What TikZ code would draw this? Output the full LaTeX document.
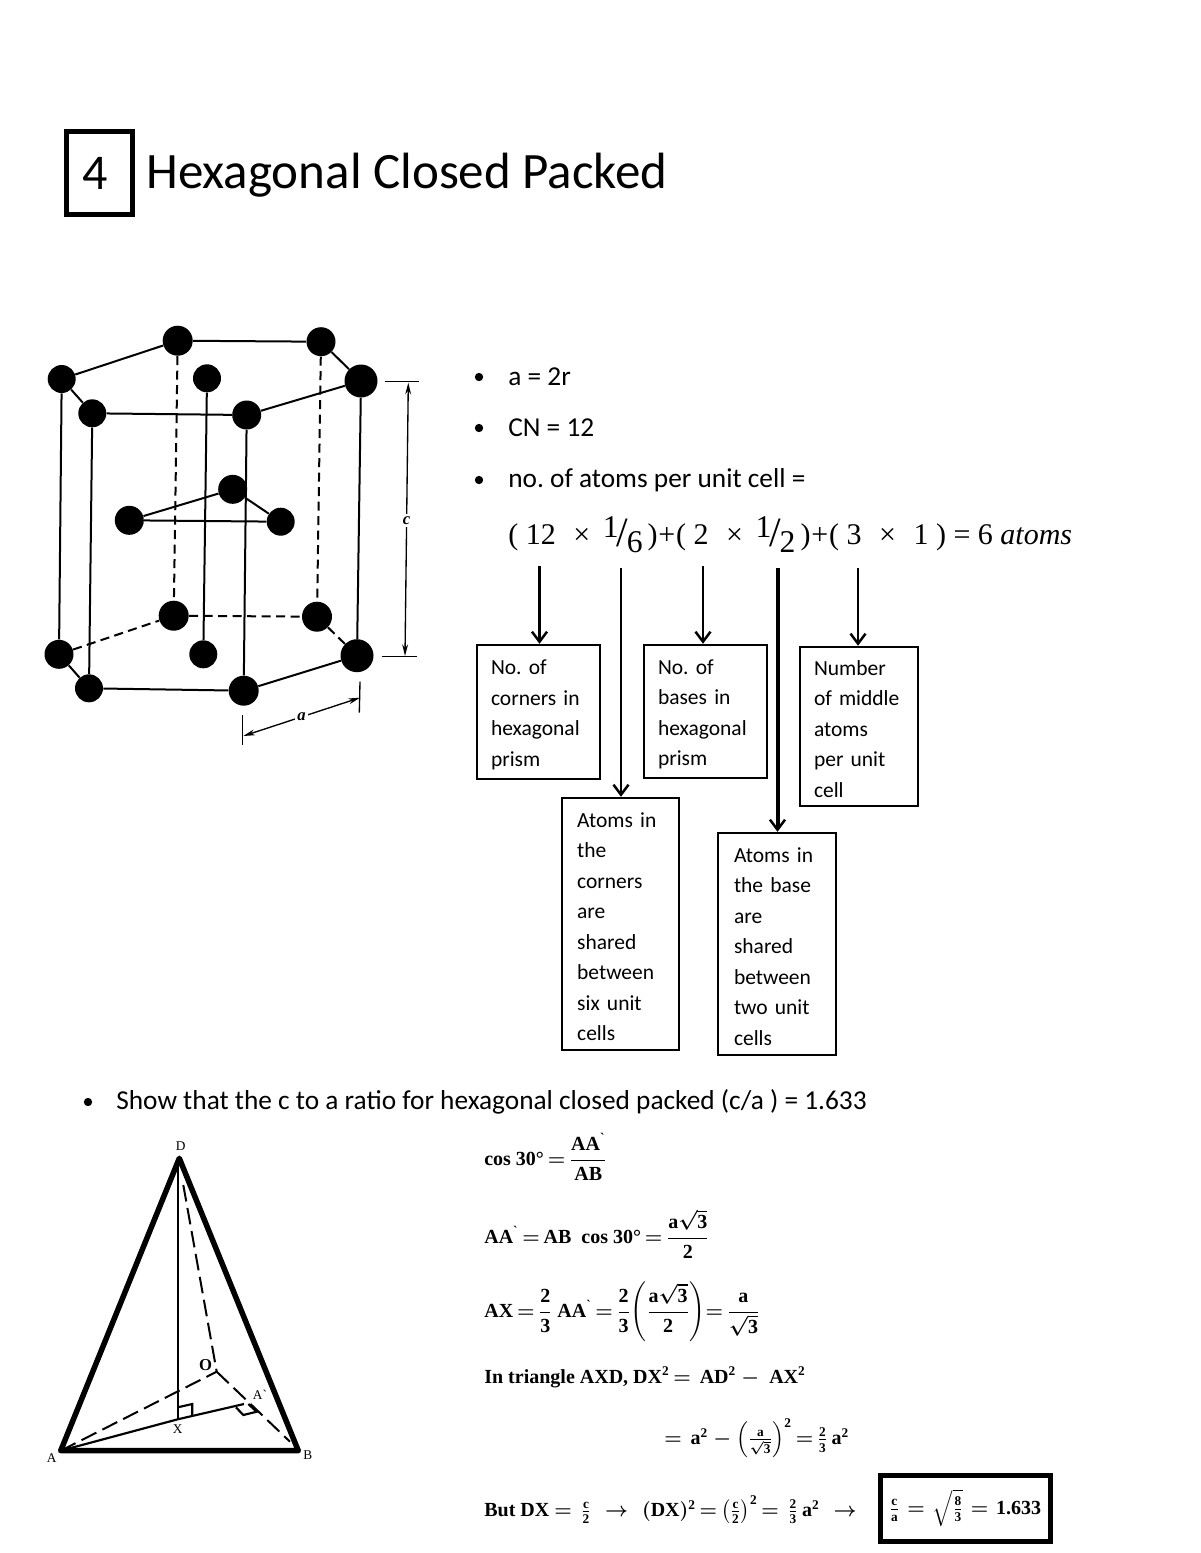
\documentclass[tikz,border=0pt]{standalone}
\usepackage{amsmath}
\usepackage{fontspec}
\setmainfont{Liberation Serif}
\newfontfamily\calfont{Carlito}
\usetikzlibrary{arrows.meta,calc}
\newcommand{\Mb}[1]{\text{\bfseries #1}}
\newcommand{\Gr}{^{\text{\bfseries\textasciigrave}}}
\thickmuskip=3mu
\tikzset{
  x=0.6pt,y=-0.6pt,
  atom/.style={circle,fill=black,inner sep=0pt,minimum size=#1*0.6pt},
  edge/.style={line width=1.2pt,black},
  dashedge/.style={line width=1.2pt,black,dash pattern=on 5.5pt off 3.2pt},
  dimline/.style={line width=0.8pt,black},
  dimarrow/.style={line width=0.8pt,black,{Stealth[length=7pt,width=3.5pt]}-{Stealth[length=7pt,width=3.5pt]}},
  dimlabel/.style={font=\itshape\bfseries\fontsize{10}{11}\selectfont,fill=white,inner sep=1.5pt},
  bulletdot/.style={circle,fill=black,inner sep=0pt,minimum size=5pt},
  bullettext/.style={anchor=west,inner sep=0pt,font=\calfont\frenchspacing\fontsize{16.4}{18}\selectfont},
  notebox/.style={draw=black,line width=1.5pt,inner sep=0pt,align=left,font=\calfont\frenchspacing\fontsize{12.9}{18.3}\selectfont,execute at begin node={\leavevmode\rule{0pt}{12pt}}},
  callout/.style={line width=1.3pt,black,-{Straight Barb[length=6pt,width=9pt,line width=1.5pt]}},
  calloutthick/.style={line width=2.4pt,black,-{Straight Barb[length=6pt,width=9pt,line width=1.5pt]}},
  eqn/.style={anchor=west,inner sep=0pt,font=\boldmath\bfseries\fontsize{12}{14}\selectfont},
  trilabel/.style={inner sep=0pt,font=\fontsize{8}{9}\selectfont},
  heavy/.style={line width=3.3pt,black,line join=round},
  medium/.style={line width=1.3pt,black},
  dashmed/.style={line width=1.2pt,black,dash pattern=on 10pt off 4pt},
}
\begin{document}
\begin{tikzpicture}
\useasboundingbox (0,0) rectangle (1200,1553);
\fill[white] (0,0) rectangle (1200,1553);

% heading
\node[draw=black,line width=3pt,minimum width=40pt,minimum height=50pt,inner sep=0pt,font=\calfont\fontsize{30}{32}\selectfont] (num) at (99.5,173) {4\kern5pt};
\node[anchor=west,inner sep=0pt,font=\calfont\fontsize{30.6}{34}\selectfont] (title) at (146,175) {Hexagonal Closed Packed};

% crystal atoms
\node[atom=30] (T1) at (177.7,340.7) {};
\node[atom=29] (T2) at (321,341.7) {};
\node[atom=33] (T3) at (361,381) {};
\node[atom=29] (T4) at (246.7,415) {};
\node[atom=28] (T5) at (92.3,413.3) {};
\node[atom=28] (T6) at (61.7,379) {};
\node[atom=28] (C1) at (207,378.3) {};
\node[atom=29] (M1) at (232.7,489.3) {};
\node[atom=29] (M2) at (129.3,520.3) {};
\node[atom=28] (M3) at (280.7,521.7) {};
\node[atom=30] (B1) at (173.7,615.7) {};
\node[atom=30] (B2) at (317,616.7) {};
\node[atom=33] (B3) at (357,655.7) {};
\node[atom=30] (B4) at (243.7,690.7) {};
\node[atom=28] (B5) at (89,688.3) {};
\node[atom=29] (B6) at (59,654.3) {};
\node[atom=28] (C2) at (203.3,654.3) {};
\draw[edge] (T6)--(T1); \draw[edge] (T1)--(T2); \draw[edge] (T2)--(T3);
\draw[edge] (T3)--(T4); \draw[edge] (T4)--(T5); \draw[edge] (T5)--(T6);
\draw[edge] (B6)--(B5); \draw[edge] (B5)--(B4); \draw[edge] (B4)--(B3);
\draw[edge] (T6)--(B6); \draw[edge] (T5)--(B5); \draw[edge] (T4)--(B4);
\draw[edge] (T3)--(B3); \draw[edge] (C1)--(C2);
\draw[edge] (M1)--(M2); \draw[edge] (M2)--(M3); \draw[edge] (M1)--(M3);
\draw[dashedge] (T1)--(B1); \draw[dashedge] (T2)--(B2);
\draw[dashedge] (B6)--(B1); \draw[dashedge] (B1)--(B2); \draw[dashedge] (B2)--(B3);

% dimensions
\coordinate (cta) at (385,381.7); \coordinate (ctb) at (419.3,381.7);
\coordinate (cba) at (381.7,656.7); \coordinate (cbb) at (416.7,656.7);
\coordinate (cu) at (408.3,382.7); \coordinate (cd) at (405,656);
\draw[dimline] (cta)--(ctb); \draw[dimline] (cba)--(cbb);
\draw[dimarrow] (cu)--(cd) node[dimlabel,pos=0.505] (clab) {c};
\coordinate (ara) at (360,681.7); \coordinate (arb) at (359.3,712.7);
\coordinate (ala) at (242.7,715); \coordinate (alb) at (242.7,745);
\coordinate (al) at (243.3,736); \coordinate (ar) at (360,697.7);
\draw[dimline] (ara)--(arb); \draw[dimline] (ala)--(alb);
\draw[dimarrow] (al)--(ar) node[dimlabel,pos=0.5] (alab) {a};

% bullets
\node[bulletdot] (b1) at (479,377) {};
\node[bulletdot] (b2) at (479,428) {};
\node[bulletdot] (b3) at (479,480) {};
\node[bullettext] (t1) at (508,377) {a = 2r};
\node[bullettext] (t2) at (508,428) {CN = 12};
\node[bullettext] (t3) at (508,480) {no. of atoms per unit cell =};

% formula
\newcommand{\Slash}[2]{\raisebox{4pt}{\fontsize{19}{19}\selectfont #1}\kern-1pt{\fontsize{25}{25}\selectfont\raisebox{-1pt}{/}}\kern-1pt\raisebox{-5pt}{\fontsize{19}{19}\selectfont #2}}
\node[anchor=west,inner sep=0pt,font=\fontsize{18}{20}\selectfont] (formula) at (508,535)
 {( 12\,\, × \,\Slash{1}{6}\,)\kern.5pt{+}\kern.5pt( 2\,\, × \,\Slash{1}{2}\,)\kern.5pt{+}\kern.5pt( 3\,\, × \,\,1 ) = 6 \textit{atoms}};

% boxes
\node[notebox,minimum width=73.8pt,minimum height=80.4pt,text width=57pt] (box1) at (538.5,712)
 {No. of\\corners in\\hexagonal\\prism};
\node[notebox,minimum width=73.8pt,minimum height=79.8pt,text width=57pt] (box2) at (705.5,711.5)
 {No. of\\bases in\\hexagonal\\prism};
\node[notebox,minimum width=70.8pt,minimum height=95.4pt,text width=54pt] (box3) at (859,726.5)
 {Number\\of middle\\atoms\\per unit\\cell};
\node[notebox,minimum width=70.2pt,minimum height=151.2pt,text width=52pt] (box4) at (620.5,924)
 {Atoms in\\the\\corners\\are\\shared\\between\\six unit\\cells};
\node[notebox,minimum width=70.8pt,minimum height=133.2pt,text width=51.6pt] (box5) at (777,944)
 {Atoms in\\the base\\are\\shared\\between\\two unit\\cells};

\coordinate (s1) at (539.5,566); \coordinate (s2) at (621,568); \coordinate (s3) at (703,566);
\coordinate (s4) at (777.5,568); \coordinate (s5) at (858,568);
\draw[callout] (s1)--(s1 |- box1.north);
\draw[callout] (s2)--(s2 |- box4.north);
\draw[callout] (s3)--(s3 |- box2.north);
\draw[calloutthick] (s4)--(s4 |- box5.north);
\draw[callout] (s5)--(s5 |- box3.north);

% show that
\node[bulletdot] (b4) at (88,1102) {};
\node[bullettext] (t4) at (116,1102) {Show that the c to a ratio for hexagonal closed packed (c/a ) = 1.633};

% triangle
\coordinate (A) at (60.7,1450.7);
\coordinate (Bp) at (298.3,1450.7);
\coordinate (D) at (179.3,1158.3);
\coordinate (X) at (177.7,1419.3);
\coordinate (O) at (216.7,1371.7);
\coordinate (Ap) at (244,1404);
\coordinate (Dd) at (183.3,1185);
\coordinate (Be) at (290,1441.7);
\coordinate (Dx) at (177.7,1160);
\draw[heavy] (A)--(Bp)--(D)--cycle;
\draw[medium] (Dx)--(X);
\draw[medium] (A)--(X)--(Ap);
\draw[dashmed] (A)--(O);
\draw[dashmed] (Dd)--(O);
\draw[dashmed] (O)--(Be);
\draw[medium] (177.7,1407.3)--(192.3,1404)--(192.3,1416);
\draw[medium] (236,1407.3)--(243.3,1415)--(256.7,1411.7)--(248.3,1404);
\node[trilabel] (lD) at (180.7,1146) {D};
\node[trilabel] (lA) at (51.7,1458.3) {A};
\node[trilabel] (lB) at (307.7,1455) {B};
\node[trilabel,font=\bfseries\fontsize{10}{11}\selectfont] (lO) at (205.7,1365) {O};
\node[trilabel] (lAp) at (260,1395) {A\textasciigrave};
\node[trilabel] (lX) at (177.7,1429) {X};

% equations
\node[eqn] (e1) at (484,1157) {$\Mb{cos 30°} = \dfrac{\Mb{AA}\Gr}{\Mb{AB}}$};
\node[eqn] (e2) at (484,1234) {$\Mb{AA}\Gr = \Mb{AB\ \ cos 30°} = \dfrac{\Mb{a}\sqrt{\Mb{3}}}{\Mb{2}}$};
\node[eqn] (e3) at (484,1312) {$\Mb{AX} = \dfrac{\Mb{2}}{\Mb{3}}\ \Mb{AA}\Gr = \dfrac{\Mb{2}}{\Mb{3}}\!\left(\dfrac{\Mb{a}\sqrt{\Mb{3}}}{\Mb{2}}\right)\! = \dfrac{\Mb{a}}{\sqrt{\Mb{3}}}$};
\node[eqn] (e4) at (484,1377) {In triangle AXD, $\Mb{DX}^{\Mb{2}} = \ \Mb{AD}^{\Mb{2}} - \ \Mb{AX}^{\Mb{2}}$};
\node[eqn] (e5) at (664,1438) {$=\ \Mb{a}^{\Mb{2}}-\left(\frac{\Mb{a}}{\sqrt{\Mb{3}}}\right)^{\Mb{2}}=\frac{\Mb{2}}{\Mb{3}}\,\Mb{a}^{\Mb{2}}$};
\node[eqn] (e6) at (484,1510) {But DX $=\ \frac{\Mb{c}}{\Mb{2}}\ \ \rightarrow\ \ (\Mb{DX})^{\Mb{2}} = \left(\frac{\Mb{c}}{\Mb{2}}\right)^{\Mb{2}}=\ \frac{\Mb{2}}{\Mb{3}}\,\Mb{a}^{\Mb{2}}\ \ \rightarrow$};
\node[draw=black,line width=3pt,minimum width=102pt,minimum height=39.6pt,inner sep=0pt,font=\boldmath\bfseries\fontsize{12}{14}\selectfont] (e7) at (965,1508)
 {$\frac{\Mb{c}}{\Mb{a}}\,=\,\sqrt{\frac{\Mb{8}}{\Mb{3}}}\,=\,\Mb{1.633}$};
\end{tikzpicture}
\end{document}
